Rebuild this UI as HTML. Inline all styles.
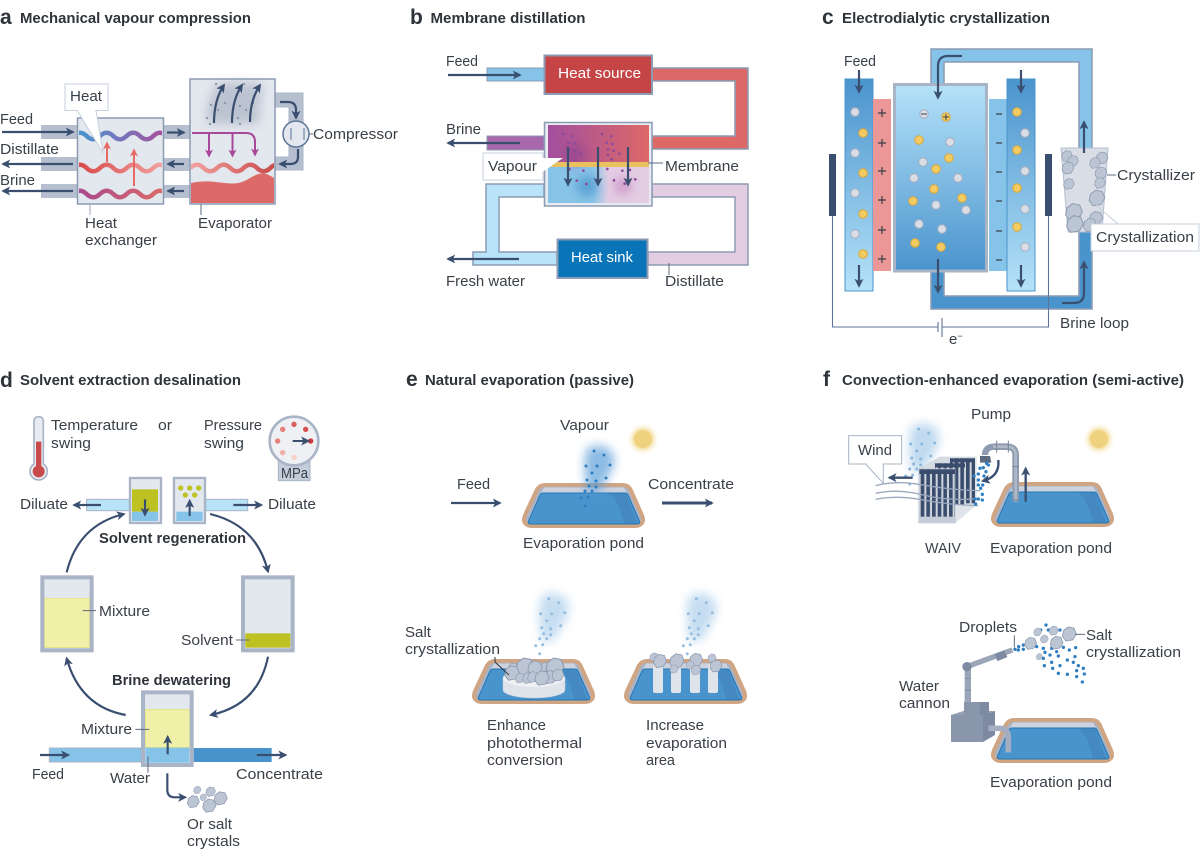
<!DOCTYPE html>
<html><head><meta charset="utf-8"><title>Desalination diagram</title>
<style>
html,body{margin:0;padding:0;background:#fff;width:1200px;height:849px;overflow:hidden}
svg{display:block}
text{font-family:"Liberation Sans",sans-serif;font-size:15px;fill:#3a4048}
.t{font-weight:bold;font-size:14.5px;fill:#2f343b}
.l{font-weight:bold;font-size:21px;fill:#2f343b}
.w{fill:#fff}
.lead{stroke:#5f6b7d;stroke-width:1;fill:none}
.ar{stroke:#3a4f70;stroke-width:2.2;fill:none;marker-end:url(#ah)}
.box{stroke:#8c9bb4;stroke-width:1.5}
</style></head><body>
<svg width="1200" height="849" viewBox="0 0 1200 849" xmlns="http://www.w3.org/2000/svg">
<defs>
<marker id="ah" viewBox="0 0 10 10" refX="8" refY="5" markerUnits="userSpaceOnUse" markerWidth="9" markerHeight="9" orient="auto"><path d="M0 0L10 5L0 10L2.5 5Z" fill="#3a4f70"/></marker>
<marker id="ahr" viewBox="0 0 10 10" refX="8" refY="5" markerUnits="userSpaceOnUse" markerWidth="8" markerHeight="8" orient="auto"><path d="M0 0L10 5L0 10L2.5 5Z" fill="#e56a64"/></marker>
<marker id="ahm" viewBox="0 0 10 10" refX="8" refY="5" markerUnits="userSpaceOnUse" markerWidth="8" markerHeight="8" orient="auto"><path d="M0 0L10 5L0 10L2.5 5Z" fill="#a8489a"/></marker>
<marker id="ahz" viewBox="0 0 10 10" refX="8" refY="5" markerUnits="userSpaceOnUse" markerWidth="27" markerHeight="27" orient="auto"><path d="M0 0L10 5L0 10L2.5 5Z" fill="#3a4f70"/></marker>
<filter id="b5" x="-60%" y="-60%" width="220%" height="220%"><feGaussianBlur stdDeviation="5"/></filter>
<linearGradient id="wT" gradientUnits="userSpaceOnUse" x1="79" y1="0" x2="162" y2="0"><stop offset="0" stop-color="#4a94cd"/><stop offset=".4" stop-color="#6d7cc2"/><stop offset="1" stop-color="#a4519c"/></linearGradient>
<linearGradient id="wM" gradientUnits="userSpaceOnUse" x1="79" y1="0" x2="162" y2="0"><stop offset="0" stop-color="#d8484a"/><stop offset="1" stop-color="#f2a3a0"/></linearGradient>
<linearGradient id="wB" gradientUnits="userSpaceOnUse" x1="79" y1="0" x2="162" y2="0"><stop offset="0" stop-color="#a8488f"/><stop offset="1" stop-color="#db6b68"/></linearGradient>
<linearGradient id="wE" gradientUnits="userSpaceOnUse" x1="190" y1="0" x2="275" y2="0"><stop offset="0" stop-color="#f2a3a0"/><stop offset="1" stop-color="#c94a4a"/></linearGradient>
<linearGradient id="bTop" x1="0" y1="0" x2="1" y2="0"><stop offset="0" stop-color="#a34f9f"/><stop offset="1" stop-color="#dc6868"/></linearGradient>
<linearGradient id="bBot" x1="0" y1="0" x2="1" y2="0"><stop offset="0" stop-color="#86c3e8"/><stop offset=".45" stop-color="#8cc6e8"/><stop offset=".6" stop-color="#e3cde3"/><stop offset="1" stop-color="#e3cde3"/></linearGradient>
<linearGradient id="dn" x1="0" y1="0" x2="0" y2="1"><stop offset="0" stop-color="#4a94cd"/><stop offset="1" stop-color="#b5e2f9"/></linearGradient>
<linearGradient id="up" x1="0" y1="0" x2="0" y2="1"><stop offset="0" stop-color="#b5e2f9"/><stop offset="1" stop-color="#4a94cd"/></linearGradient>
<radialGradient id="sun"><stop offset="0" stop-color="#efd27e"/><stop offset=".5" stop-color="#efd27e"/><stop offset=".55" stop-color="#f5e2a8"/><stop offset="1" stop-color="#fff" stop-opacity="0"/></radialGradient>
<pattern id="st" patternUnits="userSpaceOnUse" width="17" height="10"><rect width="17" height="10" fill="#d0d6e0"/><rect width="11" height="10" fill="#3b4d6d"/></pattern>
<clipPath id="cpH"><rect x="79" y="118" width="83" height="86"/></clipPath>
<clipPath id="cpE"><rect x="191" y="79" width="83" height="125"/></clipPath>
<g id="pond">
<path d="M22 2H100Q105 2 107.500 6.500L118 30Q122 38 118 41Q116 43 112 43H9Q5 43 3 41Q-1 38 3 30L14 6.500Q17 2 22 2Z" fill="#aab4c6" stroke="#cfa583" stroke-width="4"/>
<path d="M21 4.500H101L104 10H18Z" fill="#ccd3de"/>
<path d="M20 10H102Q104 10 105 12L116.500 38Q117.500 41 114 41H8Q4.500 41 5.500 38L17 12Q18 10 20 10Z" fill="#4a94cd" stroke="#2476b5" stroke-width="1"/>
<path d="M85 10.500Q93 14 98 30L101 40.500H114L103 10.500Z" fill="#4589c2"/>
</g>
<polygon id="cr" points="-5,-3 -1,-6 4,-5 6,0 3,5 -3,6 -6,2" fill="#bcc5d4" stroke="#8c99af" stroke-width=".7"/>
<g id="vap">
<path d="M586 450Q596 442 608 448Q618 456 612 470Q606 480 600 492L586 494Q586 476 584 466Z" fill="#5b9fd8" opacity=".7" filter="url(#b5)"/>
<g fill="#2e7ec2"><circle cx="594" cy="451" r="1.5"/><circle cx="604" cy="455" r="1.5"/><circle cx="586" cy="466" r="1.5"/><circle cx="597" cy="466" r="1.5"/><circle cx="610" cy="465" r="1.5"/><circle cx="592" cy="473" r="1.5"/><circle cx="606" cy="478" r="1.5"/><circle cx="587" cy="480" r="1.5"/><circle cx="596" cy="481" r="1.5"/><circle cx="589" cy="486" r="1.5"/><circle cx="596" cy="487" r="1.5"/><circle cx="585" cy="491" r="1.5"/><circle cx="592" cy="491" r="1.5"/><circle cx="581" cy="498" r="1.5"/><circle cx="588" cy="497" r="1.5"/><circle cx="585" cy="506" r="1.5"/></g>
</g>
</defs>
<rect width="1200" height="849" fill="#fff"/>

<!-- PANEL A -->
<g fill="#b5bfd0">
<rect x="41" y="125" width="36" height="14"/><rect x="41" y="157" width="36" height="14"/><rect x="41" y="184" width="36" height="14"/>
<rect x="163" y="125" width="27" height="14"/><rect x="163" y="158" width="27" height="13"/><rect x="163" y="185" width="27" height="13"/>
<path d="M275 93H303V170H275V157H289V107H275Z" stroke="#a9b4c6"/>
</g>
<rect x="77.500" y="118" width="86" height="86" fill="#e3e7ee" class="box" stroke-width="2"/>
<rect x="190" y="79" width="85" height="125" fill="#e3e7ee" class="box"/>
<path d="M191 183C205 180 215 182 225 183S240 184 250 178S265 172 274 178V203H191Z" fill="#dd6a68"/>
<g fill="none" stroke-width="4.500" clip-path="url(#cpH)">
<path d="M73.300 136q6.670 -6.500 13.330 0t13.330 0t13.330 0t13.330 0t13.330 0t13.330 0t13.330 0" stroke="url(#wT)"/>
<path d="M73.300 168q6.670 -6.500 13.330 0t13.330 0t13.330 0t13.330 0t13.330 0t13.330 0t13.330 0" stroke="url(#wM)"/>
<path d="M73.300 194q6.670 -6.500 13.330 0t13.330 0t13.330 0t13.330 0t13.330 0t13.330 0t13.330 0" stroke="url(#wB)"/>
</g>
<g fill="none" stroke-width="4.500" clip-path="url(#cpE)">
<path d="M190.300 168q6.670 -6.500 13.330 0t13.330 0t13.330 0t13.330 0t13.330 0t13.330 0t13.330 0" stroke="url(#wE)"/>
</g>
<path d="M107 162V143" stroke="#e56a64" stroke-width="2" fill="none" marker-end="url(#ahr)"/>
<path d="M134 186V150" stroke="#e56a64" stroke-width="2" fill="none" marker-end="url(#ahr)"/>
<path d="M192 133H246Q255 133 255 142V155" stroke="#a8489a" stroke-width="2" fill="none" marker-end="url(#ahm)"/>
<path d="M209 133V156" stroke="#a8489a" stroke-width="2" fill="none" marker-end="url(#ahm)"/>
<path d="M232.500 133V156" stroke="#a8489a" stroke-width="2" fill="none" marker-end="url(#ahm)"/>
<path d="M208 124Q205 100 218 84Q240 82 262 84L258 124Z" fill="#8c99af" opacity=".45" filter="url(#b5)"/>
<g fill="#8c99af"><circle cx="216" cy="84" r="1.200"/><circle cx="211" cy="105" r="1.200"/><circle cx="225" cy="103" r="1.200"/><circle cx="218" cy="110" r="1.200"/><circle cx="207" cy="118" r="1.200"/><circle cx="210" cy="124" r="1.200"/><circle cx="240" cy="106" r="1.200"/><circle cx="246" cy="110" r="1.200"/><circle cx="238" cy="118" r="1.200"/><circle cx="240" cy="124" r="1.200"/><circle cx="253" cy="103" r="1.200"/><circle cx="244" cy="84" r="1.200"/></g>
<path d="M214 123Q214 100 224 85" class="ar"/><path d="M232 123Q232 100 242 85" class="ar"/><path d="M250 122Q250 100 260 85" class="ar"/>
<path d="M280 102H288Q296 102 296 110V118" class="ar"/><path d="M298 149V157Q298 164 290 164H280" class="ar"/>
<path d="M2 132H73" class="ar"/><path d="M73 164H3" class="ar"/><path d="M73 191H3" class="ar"/>
<path d="M167 132.500H184" class="ar"/><path d="M184 164H168" class="ar"/><path d="M184 191H168" class="ar"/>
<circle cx="296" cy="134" r="13" fill="#e3e7ee" stroke="#5d7598" stroke-width="1.500"/>
<path d="M291 128V140M304 128V140" stroke="#5d7598" fill="none"/>
<path d="M309 134H313" class="lead"/>
<path d="M77 110L103 153L96 110" fill="#fff" stroke="#c6d0dc"/>
<rect x="65" y="84" width="43" height="26.500" fill="#fff" stroke="#c6d0dc"/>
<rect x="78" y="108" width="17" height="4" fill="#fff"/>
<path d="M90 204V215" stroke="#9aa3b5" fill="none"/><path d="M201 204V215" class="lead"/>
<text class="l" x="0" y="24">a</text>
<text class="t" x="20" y="23" textLength="231" lengthAdjust="spacingAndGlyphs">Mechanical vapour compression</text>
<text x="0" y="124" textLength="33" lengthAdjust="spacingAndGlyphs">Feed</text>
<text x="0" y="154" textLength="59" lengthAdjust="spacingAndGlyphs">Distillate</text>
<text x="0" y="185" textLength="35" lengthAdjust="spacingAndGlyphs">Brine</text>
<text x="70" y="101" textLength="32" lengthAdjust="spacingAndGlyphs">Heat</text>
<text x="313" y="139" textLength="85" lengthAdjust="spacingAndGlyphs">Compressor</text>
<text x="85" y="228" textLength="32" lengthAdjust="spacingAndGlyphs">Heat</text>
<text x="85" y="245" textLength="72" lengthAdjust="spacingAndGlyphs">exchanger</text>
<text x="198" y="228" textLength="74" lengthAdjust="spacingAndGlyphs">Evaporator</text>

<!-- PANEL B -->
<rect x="487" y="68" width="57" height="13" fill="#86c3e8" stroke="#8c9bb4"/>
<path d="M652 68H748V149H652V136H735V81H652Z" fill="#dc6868" stroke="#8c9bb4" stroke-width="1.500"/>
<rect x="487" y="136" width="57" height="14" fill="#a868ac" stroke="#8c9bb4"/>
<path d="M544 184H486V252H473V265H557V252H499V197H544Z" fill="#b9e3f9" stroke="#8c9bb4" stroke-width="1.500"/>
<path d="M652 184H748V265H648V252H735V197H652Z" fill="#e3cde3" stroke="#8c9bb4" stroke-width="1.500"/>
<rect x="544.500" y="55.500" width="107.500" height="38.500" fill="#c54446" stroke="#8c9bb4" stroke-width="2"/>
<rect x="557.500" y="239.500" width="90" height="38.500" fill="#0a74b8" stroke="#8c9bb4" stroke-width="2"/>
<rect x="544.500" y="122.500" width="107.500" height="83.500" fill="#e8ecf2" stroke="#8c9bb4" stroke-width="1.500"/>
<rect x="548" y="125" width="101" height="37" fill="url(#bTop)"/>
<rect x="548" y="167" width="101" height="36" fill="url(#bBot)"/>
<circle cx="575" cy="155" r="11" fill="#8c3f92" opacity=".55" filter="url(#b5)"/>
<circle cx="587" cy="186" r="11" fill="#4a94cd" opacity=".7" filter="url(#b5)"/>
<circle cx="623" cy="186" r="9" fill="#c98cc4" opacity=".7" filter="url(#b5)"/>
<rect x="548" y="162" width="101" height="5" fill="#e9c25f"/>
<g transform="translate(410,0) scale(.33333)" fill="#8a4a9a"><circle cx="460" cy="402" r="4"/><circle cx="487" cy="409" r="4"/><circle cx="576" cy="402" r="4"/><circle cx="603" cy="409" r="4"/><circle cx="475" cy="428" r="4"/><circle cx="495" cy="430" r="4"/><circle cx="590" cy="428" r="4"/><circle cx="607" cy="432" r="4"/><circle cx="478" cy="450" r="4"/><circle cx="495" cy="452" r="4"/><circle cx="513" cy="461" r="4"/><circle cx="594" cy="448" r="4"/><circle cx="611" cy="452" r="4"/><circle cx="628" cy="461" r="4"/><circle cx="594" cy="465" r="4"/><circle cx="495" cy="480" r="4"/><circle cx="478" cy="508" r="4"/><circle cx="520" cy="512" r="4"/><circle cx="500" cy="542" r="4"/><circle cx="529" cy="552" r="4"/><circle cx="592" cy="507" r="4"/><circle cx="637" cy="512" r="4"/><circle cx="612" cy="541" r="4"/><circle cx="676" cy="538" r="4"/><circle cx="644" cy="551" r="4"/><circle cx="660" cy="510" r="4"/><circle cx="605" cy="478" r="4"/></g>
<path d="M568 147V185" class="ar"/><path d="M598 147V185" class="ar"/><path d="M628 147V185" class="ar"/>
<path d="M448 75H520" class="ar"/><path d="M520 143H448" class="ar"/><path d="M519 259H448" class="ar"/>
<rect x="483" y="153" width="60" height="27" fill="#fff" stroke="#c6d0dc"/>
<polygon points="540,158 563,158 541,173" fill="#fff"/>
<path d="M648 163H663" class="lead"/><path d="M669 263V275" class="lead"/>
<text class="l" x="410" y="24">b</text>
<text class="t" x="430.500" y="23" textLength="155" lengthAdjust="spacingAndGlyphs">Membrane distillation</text>
<text x="446" y="66" textLength="32" lengthAdjust="spacingAndGlyphs">Feed</text>
<text x="446" y="134" textLength="35" lengthAdjust="spacingAndGlyphs">Brine</text>
<text x="488" y="171" textLength="49" lengthAdjust="spacingAndGlyphs">Vapour</text>
<text x="665" y="171" textLength="74" lengthAdjust="spacingAndGlyphs">Membrane</text>
<text class="w" x="558" y="78" textLength="83" lengthAdjust="spacingAndGlyphs">Heat source</text>
<text class="w" x="571" y="262" textLength="62" lengthAdjust="spacingAndGlyphs">Heat sink</text>
<text x="446" y="286" textLength="79" lengthAdjust="spacingAndGlyphs">Fresh water</text>
<text x="665" y="286" textLength="59" lengthAdjust="spacingAndGlyphs">Distillate</text>

<!-- PANEL C -->
<path d="M931 84V49H1092V150H1079V62H944V84Z" fill="#86c3e8" stroke="#8c9bb4" stroke-width="1.500"/>
<path d="M931 270V309H1092V231H1079V296H944V270Z" fill="#4a94cd" stroke="#8c9bb4" stroke-width="1.500"/>
<rect x="845" y="79" width="28" height="212" fill="url(#dn)" stroke="#4a94cd"/>
<rect x="873" y="99" width="18" height="172" fill="#ec9797"/>
<rect x="894.500" y="84.500" width="92" height="186.500" fill="url(#up)" stroke="#a9b4c6" stroke-width="3"/>
<rect x="989" y="99" width="18" height="172" fill="#86c3e8"/>
<rect x="1007" y="79" width="28" height="212" fill="url(#dn)" stroke="#4a94cd"/>
<g fill="#d8dde6" stroke="#a5aec0"><circle cx="855" cy="112" r="4.300"/><circle cx="855" cy="153" r="4.300"/><circle cx="855" cy="193" r="4.300"/><circle cx="855" cy="234" r="4.300"/><circle cx="1025" cy="133" r="4.300"/><circle cx="1025" cy="171" r="4.300"/><circle cx="1025" cy="209" r="4.300"/><circle cx="1025" cy="247" r="4.300"/><circle cx="924" cy="114" r="4.300"/><circle cx="950" cy="142" r="4.300"/><circle cx="923" cy="162" r="4.300"/><circle cx="914" cy="178" r="4.300"/><circle cx="958" cy="178" r="4.300"/><circle cx="936" cy="205" r="4.300"/><circle cx="966" cy="210" r="4.300"/><circle cx="919" cy="224" r="4.300"/><circle cx="942" cy="229" r="4.300"/></g>
<g fill="#f2cb62" stroke="#d9a83c"><circle cx="863" cy="133" r="4.300"/><circle cx="863" cy="173" r="4.300"/><circle cx="863" cy="214" r="4.300"/><circle cx="863" cy="254" r="4.300"/><circle cx="1017" cy="112" r="4.300"/><circle cx="1017" cy="150" r="4.300"/><circle cx="1017" cy="188" r="4.300"/><circle cx="1017" cy="227" r="4.300"/><circle cx="946" cy="117" r="4.300"/><circle cx="919" cy="140" r="4.300"/><circle cx="949" cy="158" r="4.300"/><circle cx="936" cy="169" r="4.300"/><circle cx="934" cy="189" r="4.300"/><circle cx="913" cy="201" r="4.300"/><circle cx="962" cy="198" r="4.300"/><circle cx="915" cy="243" r="4.300"/><circle cx="941" cy="247" r="4.300"/></g>
<path d="M921 114H927M943 117H949M946 114V120" stroke="#3a4048" fill="none"/>
<path d="M878 113H886M882 109V117M878 143H886M882 139V147M878 171H886M882 167V175M878 200H886M882 196V204M878 230H886M882 226V234M878 259H886M882 255V263" stroke="#3a4048" stroke-width="1.200" fill="none"/>
<path d="M996 114H1002M996 143H1002M996 172H1002M996 201H1002M996 231H1002M996 260H1002" stroke="#3a4048" stroke-width="1.300" fill="none"/>
<rect x="829" y="154" width="7" height="62" fill="#3a4f70"/><rect x="1045" y="154" width="7" height="62" fill="#3a4f70"/>
<path d="M832.500 216V327H938M938 322V332M942 318V337M942 327H1048.500V216" stroke="#5d7598" stroke-width="1.100" fill="none"/>
<polygon points="1061,148 1108,148 1102,232 1068,232" fill="#d8dde6" stroke="#b5bfd0"/>
<g><use href="#cr" transform="translate(1067,156) scale(.9)"/><use href="#cr" transform="translate(1073,161) scale(.9)"/><use href="#cr" transform="translate(1068,168)"/><use href="#cr" transform="translate(1102,158)"/><use href="#cr" transform="translate(1095,163) scale(.9)"/><use href="#cr" transform="translate(1101,173)"/><use href="#cr" transform="translate(1100,183) scale(.9)"/><use href="#cr" transform="translate(1069,184) scale(.9)"/><use href="#cr" transform="translate(1097,198) scale(1.300)"/><use href="#cr" transform="translate(1074,212) scale(1.400)"/><use href="#cr" transform="translate(1075,224) scale(1.400)"/><use href="#cr" transform="translate(1096,218) scale(1.100)"/><use href="#cr" transform="translate(1090,225) scale(1.100)"/></g>
<path d="M859 70V92" class="ar"/><path d="M859 265V286" class="ar"/><path d="M1021 70V92" class="ar"/><path d="M1021 265V286" class="ar"/>
<path d="M962 56H948Q938 56 938 66V98" class="ar"/><path d="M938 259V292" class="ar"/>
<path d="M1062 303H1074Q1084 303 1084 293V262" class="ar"/><path d="M1084 153V122" class="ar"/>
<path d="M1107 175H1116" class="lead"/>
<path d="M1096 205L1118 224" stroke="#c6d0dc" fill="none"/>
<rect x="1091" y="224" width="108" height="27" fill="#fff" stroke="#c6d0dc"/>
<text class="l" x="822" y="24">c</text>
<text class="t" x="842" y="23" textLength="208" lengthAdjust="spacingAndGlyphs">Electrodialytic crystallization</text>
<text x="844" y="66" textLength="32" lengthAdjust="spacingAndGlyphs">Feed</text>
<text x="1117" y="180" textLength="78" lengthAdjust="spacingAndGlyphs">Crystallizer</text>
<text x="1096" y="242" textLength="98" lengthAdjust="spacingAndGlyphs">Crystallization</text>
<text x="1060" y="328" textLength="69" lengthAdjust="spacingAndGlyphs">Brine loop</text>
<text x="949" y="344">e<tspan dy="-5" font-size="9">−</tspan></text>

<!-- PANEL D -->
<g transform="translate(0,400) scale(.33333)">
<path d="M102 65Q102 50 116 50Q130 50 130 65V192A26 26 0 1 1 102 192Z" fill="#e8ecf2" stroke="#a9b4c6" stroke-width="5"/>
<path d="M108 125H124V198A18 18 0 1 1 108 198Z" fill="#c94a4a"/>
<rect x="835" y="180" width="95" height="62" fill="#c3ccd9" stroke="#a9b4c6" stroke-width="3"/>
<circle cx="882" cy="123" r="73" fill="#eef0f4" stroke="#a9b4c6" stroke-width="8"/>
<circle cx="848" cy="88" r="8" fill="#e68078"/><circle cx="882" cy="73" r="8" fill="#d8605c"/><circle cx="917" cy="88" r="8" fill="#d8504f"/><circle cx="833" cy="123" r="8" fill="#e68078"/><circle cx="848" cy="158" r="8" fill="#f0b0a8"/><circle cx="882" cy="172" r="8" fill="#f7d0c8"/><circle cx="932" cy="123" r="8" fill="#c8383c"/>
<path d="M878 123H925" stroke="#3a4f70" stroke-width="6" fill="none" marker-end="url(#ahz)"/>
<rect x="260" y="298" width="128" height="34" fill="#b9e3f9" stroke="#a9b4c6" stroke-width="3"/>
<rect x="617" y="298" width="126" height="34" fill="#b9e3f9" stroke="#a9b4c6" stroke-width="3"/>
<rect x="390" y="234" width="93" height="135" fill="#e3e7ee" stroke="#a9b4c6" stroke-width="7"/>
<rect x="396" y="268" width="78" height="67" fill="#bec122"/><rect x="396" y="335" width="78" height="28" fill="#86c3e8"/>
<rect x="522" y="234" width="93" height="135" fill="#e3e7ee" stroke="#a9b4c6" stroke-width="7"/>
<rect x="529" y="335" width="79" height="28" fill="#86c3e8"/>
<g fill="#bec122"><circle cx="542" cy="264" r="8"/><circle cx="569" cy="264" r="8"/><circle cx="596" cy="264" r="8"/><circle cx="556" cy="285" r="8"/><circle cx="584" cy="285" r="8"/></g>
<rect x="127" y="532" width="148" height="219" fill="#e3e7ee" stroke="#a9b4c6" stroke-width="12"/>
<rect x="134" y="595" width="134" height="148" fill="#f0f0a8" stroke="#e0df7c" stroke-width="2"/>
<rect x="729" y="532" width="149" height="219" fill="#e3e7ee" stroke="#a9b4c6" stroke-width="12"/>
<rect x="736" y="700" width="135" height="43" fill="#bec122"/>
<rect x="148" y="1044" width="276" height="42" fill="#86c3e8" stroke="#a9b4c6" stroke-width="3"/>
<rect x="581" y="1044" width="234" height="42" fill="#4a94cd"/>
<rect x="429" y="877" width="146" height="218" fill="#e3e7ee" stroke="#a9b4c6" stroke-width="12"/>
<rect x="436" y="928" width="132" height="114" fill="#f0f0a8" stroke="#e0df7c" stroke-width="2"/>
<rect x="436" y="1043" width="132" height="45" fill="#86c3e8"/>
<g fill="none" stroke="#3a4f70" stroke-width="6.500">
<path d="M303 315H222" marker-end="url(#ahz)"/><path d="M700 315H784" marker-end="url(#ahz)"/>
<path d="M435 298V345" marker-end="url(#ahz)"/><path d="M569 348V302" marker-end="url(#ahz)"/>
<path d="M200 517Q235 375 372 342" marker-end="url(#ahz)"/>
<path d="M630 342Q770 375 804 515" marker-end="url(#ahz)"/>
<path d="M377 945Q240 920 200 775" marker-end="url(#ahz)"/>
<path d="M804 770Q775 915 632 945" marker-end="url(#ahz)"/>
<path d="M120 1065H205" marker-end="url(#ahz)"/><path d="M770 1065H857" marker-end="url(#ahz)"/>
<path d="M503 1063V1010" marker-end="url(#ahz)"/>
<path d="M502 1120V1170Q502 1192 525 1192H556" marker-end="url(#ahz)"/>
</g>
<path d="M248 632H288M708 720H748M406 988H448M444 1070V1118" stroke="#5f6b7d" stroke-width="3" fill="none"/>
<g><use href="#cr" transform="translate(592,1170) scale(1.900)"/><use href="#cr" transform="translate(580,1205) scale(3)"/><use href="#cr" transform="translate(610,1192) scale(1.700)"/><use href="#cr" transform="translate(632,1175) scale(2.400)"/><use href="#cr" transform="translate(628,1217) scale(3.300)"/><use href="#cr" transform="translate(662,1195) scale(3.300)"/></g>
</g>
<text class="l" x="0" y="387">d</text>
<text class="t" x="20" y="385" textLength="221" lengthAdjust="spacingAndGlyphs">Solvent extraction desalination</text>
<text x="51" y="430" textLength="87" lengthAdjust="spacingAndGlyphs">Temperature</text>
<text x="51" y="448" textLength="40" lengthAdjust="spacingAndGlyphs">swing</text>
<text x="158" y="430" textLength="14" lengthAdjust="spacingAndGlyphs">or</text>
<text x="204" y="430" textLength="58" lengthAdjust="spacingAndGlyphs">Pressure</text>
<text x="204" y="448" textLength="40" lengthAdjust="spacingAndGlyphs">swing</text>
<text x="281" y="478" textLength="27" lengthAdjust="spacingAndGlyphs">MPa</text>
<text x="20" y="509" textLength="48" lengthAdjust="spacingAndGlyphs">Diluate</text>
<text x="268" y="509" textLength="48" lengthAdjust="spacingAndGlyphs">Diluate</text>
<text class="t" x="99" y="543" textLength="147" lengthAdjust="spacingAndGlyphs">Solvent regeneration</text>
<text x="99" y="616" textLength="51" lengthAdjust="spacingAndGlyphs">Mixture</text>
<text x="181" y="645" textLength="52" lengthAdjust="spacingAndGlyphs">Solvent</text>
<text class="t" x="112" y="685" textLength="119" lengthAdjust="spacingAndGlyphs">Brine dewatering</text>
<text x="81" y="734" textLength="51" lengthAdjust="spacingAndGlyphs">Mixture</text>
<text x="32" y="779" textLength="32" lengthAdjust="spacingAndGlyphs">Feed</text>
<text x="110" y="783" textLength="40" lengthAdjust="spacingAndGlyphs">Water</text>
<text x="236" y="779" textLength="87" lengthAdjust="spacingAndGlyphs">Concentrate</text>
<text x="187" y="829" textLength="45" lengthAdjust="spacingAndGlyphs">Or salt</text>
<text x="187" y="846" textLength="53" lengthAdjust="spacingAndGlyphs">crystals</text>

<!-- PANEL E -->
<circle cx="643" cy="439" r="17" fill="url(#sun)"/>
<use href="#pond" x="523" y="483"/>
<use href="#vap"/>
<path d="M451 503H500" class="ar"/>
<path d="M662 503H712" stroke="#3a4f70" stroke-width="3" fill="none" marker-end="url(#ah)"/>
<use href="#pond" x="473" y="659"/>
<use href="#vap" transform="translate(-45.300,147.700)" opacity=".5"/>
<path d="M503 678V690A31 8 0 0 0 565 690V678Z" fill="#dfe3ea" stroke="#c6cdd9" stroke-width=".5"/>
<ellipse cx="534" cy="678" rx="31" ry="9" fill="#eef0f4"/>
<g><use href="#cr" transform="translate(513,668) scale(.8)"/><use href="#cr" transform="translate(545,667) scale(.8)"/><use href="#cr" transform="translate(525,667) scale(1.500)"/><use href="#cr" transform="translate(535,668) scale(1.200)"/><use href="#cr" transform="translate(555,667) scale(1.500)"/><use href="#cr" transform="translate(512,673) scale(1.200)"/><use href="#cr" transform="translate(550,677) scale(1.100)"/><use href="#cr" transform="translate(558,675) scale(1)"/><use href="#cr" transform="translate(520,678) scale(.8)"/><use href="#cr" transform="translate(528,678) scale(.9)"/><use href="#cr" transform="translate(533,677) scale(.9)"/><use href="#cr" transform="translate(542,678) scale(1.200)"/></g>
<path d="M495 657V662L509 675" stroke="#2f343b" stroke-width="1" fill="none"/>
<use href="#pond" x="625" y="659"/>
<use href="#vap" transform="translate(102.300,147.700)" opacity=".5"/>
<g fill="#dfe3ea"><rect x="653" y="664" width="10" height="29" rx="2"/><rect x="671" y="664" width="10" height="29" rx="2"/><rect x="690" y="664" width="10" height="29" rx="2"/><rect x="708" y="664" width="10" height="29" rx="2"/></g>
<g><use href="#cr" transform="translate(654,657) scale(.7)"/><use href="#cr" transform="translate(660,661) scale(1.100)"/><use href="#cr" transform="translate(677,661) scale(1.200)"/><use href="#cr" transform="translate(674,669) scale(.7)"/><use href="#cr" transform="translate(696,660) scale(1.100)"/><use href="#cr" transform="translate(690,665) scale(.7)"/><use href="#cr" transform="translate(696,670) scale(.8)"/><use href="#cr" transform="translate(712,658) scale(.7)"/><use href="#cr" transform="translate(716,666) scale(1)"/></g>
<text class="l" x="406" y="386">e</text>
<text class="t" x="425" y="385" textLength="209" lengthAdjust="spacingAndGlyphs">Natural evaporation (passive)</text>
<text x="560" y="430" textLength="49" lengthAdjust="spacingAndGlyphs">Vapour</text>
<text x="457" y="489" textLength="33" lengthAdjust="spacingAndGlyphs">Feed</text>
<text x="648" y="489" textLength="86" lengthAdjust="spacingAndGlyphs">Concentrate</text>
<text x="523" y="548" textLength="121" lengthAdjust="spacingAndGlyphs">Evaporation pond</text>
<text x="405" y="637" textLength="26" lengthAdjust="spacingAndGlyphs">Salt</text>
<text x="405" y="654" textLength="95" lengthAdjust="spacingAndGlyphs">crystallization</text>
<text x="487" y="730" textLength="59" lengthAdjust="spacingAndGlyphs">Enhance</text>
<text x="487" y="748" textLength="95" lengthAdjust="spacingAndGlyphs">photothermal</text>
<text x="487" y="765" textLength="76" lengthAdjust="spacingAndGlyphs">conversion</text>
<text x="646" y="730" textLength="58" lengthAdjust="spacingAndGlyphs">Increase</text>
<text x="646" y="748" textLength="81" lengthAdjust="spacingAndGlyphs">evaporation</text>
<text x="646" y="765" textLength="29" lengthAdjust="spacingAndGlyphs">area</text>

<!-- PANEL F -->
<circle cx="1099" cy="439" r="17" fill="url(#sun)"/>
<use href="#pond" x="992" y="482"/>
<use href="#pond" x="992" y="718"/>
<use href="#vap" transform="translate(324.700,-22)" opacity=".55"/>
<g transform="translate(830,400) scale(.33333)">
<polygon points="265,205 330,170 440,170 375,205" fill="#d5dbe3"/>
<polygon points="375,205 440,170 440,315 375,370" fill="#dfe3ea"/>
<rect x="265" y="205" width="112" height="165" fill="#c5cdd9"/>
<rect x="360" y="175" width="75" height="135" fill="url(#st)"/><rect x="360" y="175" width="75" height="12" fill="#3b4d6d"/>
<rect x="315" y="190" width="90" height="125" fill="url(#st)"/><rect x="315" y="190" width="90" height="12" fill="#3b4d6d"/>
<rect x="266" y="205" width="110" height="145" fill="#c5cdd9"/>
<rect x="268" y="208" width="107" height="142" fill="url(#st)"/><rect x="268" y="208" width="107" height="14" fill="#3b4d6d"/>
<path d="M137 257Q200 240 280 255T450 272M137 280Q200 265 280 285T450 295M137 298Q200 285 280 300T445 317" stroke="#9aa9bf" stroke-width="4" fill="none"/>
<path d="M557 305V165Q557 140 530 140H490" stroke="#8f9bb0" stroke-width="20" fill="none"/>
<path d="M557 305V165Q557 140 530 140H490" stroke="#b0b9c8" stroke-width="8" fill="none"/>
<path d="M490 140Q465 142 465 165" stroke="#8f9bb0" stroke-width="19" fill="none"/>
<polygon points="450,168 480,168 484,188 450,188" fill="#5d6b80"/>
<path d="M500 122V158M535 122V158M547 200H567M547 300H567" stroke="#76839a" stroke-width="3" fill="none"/>
<path d="M505 180Q510 230 458 243" stroke="#3a4f70" stroke-width="7" fill="none" marker-end="url(#ahz)"/>
<path d="M587 305V205" stroke="#3a4f70" stroke-width="7" fill="none" marker-end="url(#ahz)"/>
<path d="M248 233H178" stroke="#3a4f70" stroke-width="7" fill="none" marker-end="url(#ahz)"/>
<g fill="#2e7ec2"><circle cx="470" cy="190" r="5"/><circle cx="460" cy="203" r="5"/><circle cx="450" cy="205" r="5"/><circle cx="468" cy="215" r="5"/><circle cx="445" cy="222" r="5"/><circle cx="432" cy="228" r="5"/><circle cx="462" cy="228" r="5"/><circle cx="445" cy="240" r="5"/><circle cx="445" cy="255" r="5"/><circle cx="458" cy="255" r="5"/><circle cx="452" cy="265" r="5"/><circle cx="457" cy="283" r="5"/><circle cx="445" cy="297" r="5"/><circle cx="457" cy="300" r="5"/><circle cx="437" cy="312" r="5"/><circle cx="435" cy="297" r="5"/><circle cx="475" cy="195" r="5"/></g>
<path d="M107 192L160 250V192" fill="#fff" stroke="#a9b4c6" stroke-width="3"/>
<rect x="56" y="107" width="159" height="85" fill="#fff" stroke="#a9b4c6" stroke-width="3"/>
<rect x="110" y="188" width="48" height="6" fill="#fff"/>
<!-- water cannon -->
<rect x="363" y="945" width="96" height="81" fill="#8a96ac"/>
<polygon points="459,945 495,933 495,1005 459,1026" fill="#7d8aa2"/>
<polygon points="363,945 400,933 495,933 459,945" fill="#95a0b4"/>
<rect x="402" y="906" width="48" height="39" fill="#8a96ac"/><rect x="450" y="906" width="27" height="39" fill="#7d8aa2"/>
<rect x="404" y="800" width="19" height="106" fill="#9aa5b8"/>
<path d="M404 835H423M404 870H423" stroke="#76839a" stroke-width="2" fill="none"/>
<path d="M411 800L547 750" stroke="#9aa5b8" stroke-width="16" fill="none"/>
<circle cx="411" cy="800" r="14" fill="#7d8aa2"/>
<path d="M498 773L528 761" stroke="#7d8aa2" stroke-width="22" fill="none"/>
<path d="M475 985H510Q535 985 535 1015V1057" stroke="#a5aec0" stroke-width="17" fill="none"/>
<g fill="#2e7ec2"><circle cx="555" cy="748" r="5"/><circle cx="566" cy="740" r="5"/><circle cx="580" cy="735" r="5"/><circle cx="580" cy="748" r="5"/><circle cx="565" cy="750" r="5"/><circle cx="648" cy="675" r="5"/><circle cx="632" cy="690" r="5"/><circle cx="655" cy="690" r="5"/><circle cx="690" cy="690" r="5"/><circle cx="640" cy="745" r="5"/><circle cx="645" cy="757" r="5"/><circle cx="665" cy="745" r="5"/><circle cx="680" cy="755" r="5"/><circle cx="700" cy="742" r="5"/><circle cx="718" cy="750" r="5"/><circle cx="737" cy="743" r="5"/><circle cx="660" cy="765" r="5"/><circle cx="685" cy="768" r="5"/><circle cx="712" cy="780" r="5"/><circle cx="735" cy="770" r="5"/><circle cx="640" cy="775" r="5"/><circle cx="665" cy="787" r="5"/><circle cx="690" cy="797" r="5"/><circle cx="730" cy="787" r="5"/><circle cx="745" cy="797" r="5"/><circle cx="760" cy="805" r="5"/><circle cx="643" cy="797" r="5"/><circle cx="668" cy="805" r="5"/><circle cx="740" cy="812" r="5"/><circle cx="763" cy="822" r="5"/><circle cx="685" cy="820" r="5"/><circle cx="712" cy="823" r="5"/><circle cx="740" cy="830" r="5"/><circle cx="757" cy="846" r="5"/><circle cx="620" cy="740" r="5"/></g>
<g><use href="#cr" transform="translate(602,730) scale(3)"/><use href="#cr" transform="translate(623,696) scale(2)"/><use href="#cr" transform="translate(643,717) scale(2)"/><use href="#cr" transform="translate(671,692) scale(2.300)"/><use href="#cr" transform="translate(680,728) scale(3.200)"/><use href="#cr" transform="translate(718,702) scale(3.500)"/><use href="#cr" transform="translate(628,770) scale(1.600)"/></g>
<path d="M553 706V742M735 703H765" stroke="#5f6b7d" stroke-width="3" fill="none"/>
</g>
<text class="l" x="823" y="386">f</text>
<text class="t" x="842" y="385" textLength="342" lengthAdjust="spacingAndGlyphs">Convection-enhanced evaporation (semi-active)</text>
<text x="971" y="419" textLength="40" lengthAdjust="spacingAndGlyphs">Pump</text>
<text x="858" y="455" textLength="34" lengthAdjust="spacingAndGlyphs">Wind</text>
<text x="925" y="553" textLength="36" lengthAdjust="spacingAndGlyphs">WAIV</text>
<text x="990" y="553" textLength="122" lengthAdjust="spacingAndGlyphs">Evaporation pond</text>
<text x="959" y="632" textLength="58" lengthAdjust="spacingAndGlyphs">Droplets</text>
<text x="1086" y="640" textLength="26" lengthAdjust="spacingAndGlyphs">Salt</text>
<text x="1086" y="657" textLength="95" lengthAdjust="spacingAndGlyphs">crystallization</text>
<text x="899" y="691" textLength="40" lengthAdjust="spacingAndGlyphs">Water</text>
<text x="899" y="708" textLength="51" lengthAdjust="spacingAndGlyphs">cannon</text>
<text x="990" y="787" textLength="122" lengthAdjust="spacingAndGlyphs">Evaporation pond</text>
</svg>
</body></html>
